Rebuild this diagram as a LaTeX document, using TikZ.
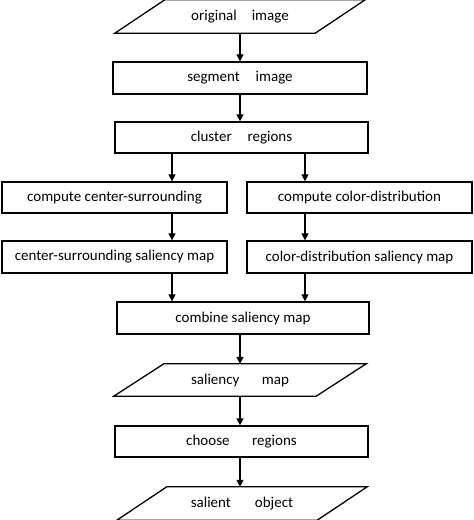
\documentclass[tikz,border=0pt]{standalone}
\usepackage{fontspec}
\setmainfont{Carlito}
\usetikzlibrary{arrows.meta}
\tikzset{
  box/.style={draw, line width=1.3pt, rectangle, inner sep=0pt, font=\fontsize{15}{17}\selectfont},
  para/.style={inner sep=0pt, font=\fontsize{15}{17}\selectfont},
  paraline/.style={line width=1.3pt, line join=miter},
  arr/.style={line width=1.4pt, -{Triangle[length=7pt,width=7pt]}}
}
\begin{document}
\begin{tikzpicture}[x=1pt,y=-1pt]
\useasboundingbox (0,0) rectangle (474,520);
% nodes
\node[para, minimum width=250pt, minimum height=33pt] (orig) at (240,16.5) {original\hspace{1em}image};
\node[box, minimum width=254pt, minimum height=32pt] (seg) at (240,78) {segment\hspace{1.05em}image};
\node[box, minimum width=253pt, minimum height=31pt] (clu) at (241.5,137.5) {cluster\hspace{1.05em}regions};
\node[box, minimum width=225pt, minimum height=31pt] (ccs) at (114.5,197.5) {compute center-surrounding};
\node[box, minimum width=225pt, minimum height=31pt] (ccd) at (359.5,197.5) {compute color-distribution};
\node[box, minimum width=225pt, minimum height=32pt] (csm) at (114.5,257) {center-surrounding saliency map};
\node[box, minimum width=225pt, minimum height=32pt] (cdm) at (359.5,257) {color-distribution saliency map};
\node[box, minimum width=252pt, minimum height=32pt] (comb) at (243,318) {combine saliency map};
\node[para, minimum width=252pt, minimum height=32pt] (smap) at (240,380) {saliency\hspace{1.5em}map};
\node[box, minimum width=253pt, minimum height=31pt] (choose) at (241.5,441.5) {choose\hspace{1.5em}regions};
\node[para, minimum width=250pt, minimum height=33pt] (obj) at (242,503.5) {salient\hspace{1.6em}object};
% parallelograms
\draw[paraline] ([xshift=50pt]orig.north west) -- (orig.north east) -- ([xshift=-50pt]orig.south east) -- (orig.south west) -- cycle;
\draw[paraline] ([xshift=50pt]smap.north west) -- (smap.north east) -- ([xshift=-50pt]smap.south east) -- (smap.south west) -- cycle;
\draw[paraline] ([xshift=50pt]obj.north west) -- (obj.north east) -- ([xshift=-50pt]obj.south east) -- (obj.south west) -- cycle;
% arrows
\draw[arr] (orig.south) -- (seg.north);
\draw[arr] (seg.south) -- (seg.south |- clu.north);
\draw[arr] ([xshift=-69.5pt]clu.south) -- ([xshift=-69.5pt]clu.south |- ccs.north);
\draw[arr] ([xshift=63.5pt]clu.south) -- ([xshift=63.5pt]clu.south |- ccd.north);
\draw[arr] ([xshift=57.5pt]ccs.south) -- ([xshift=57.5pt]ccs.south |- csm.north);
\draw[arr] ([xshift=-54.5pt]ccd.south) -- ([xshift=-54.5pt]ccd.south |- cdm.north);
\draw[arr] ([xshift=57.5pt]csm.south) -- ([xshift=57.5pt]csm.south |- comb.north);
\draw[arr] ([xshift=-54.5pt]cdm.south) -- ([xshift=-54.5pt]cdm.south |- comb.north);
\draw[arr] (comb.south -| smap.south) -- (smap.north);
\draw[arr] (smap.south) -- (smap.south |- choose.north);
\draw[arr] (smap.south |- choose.south) -- (smap.south |- obj.north);
\end{tikzpicture}
\end{document}
